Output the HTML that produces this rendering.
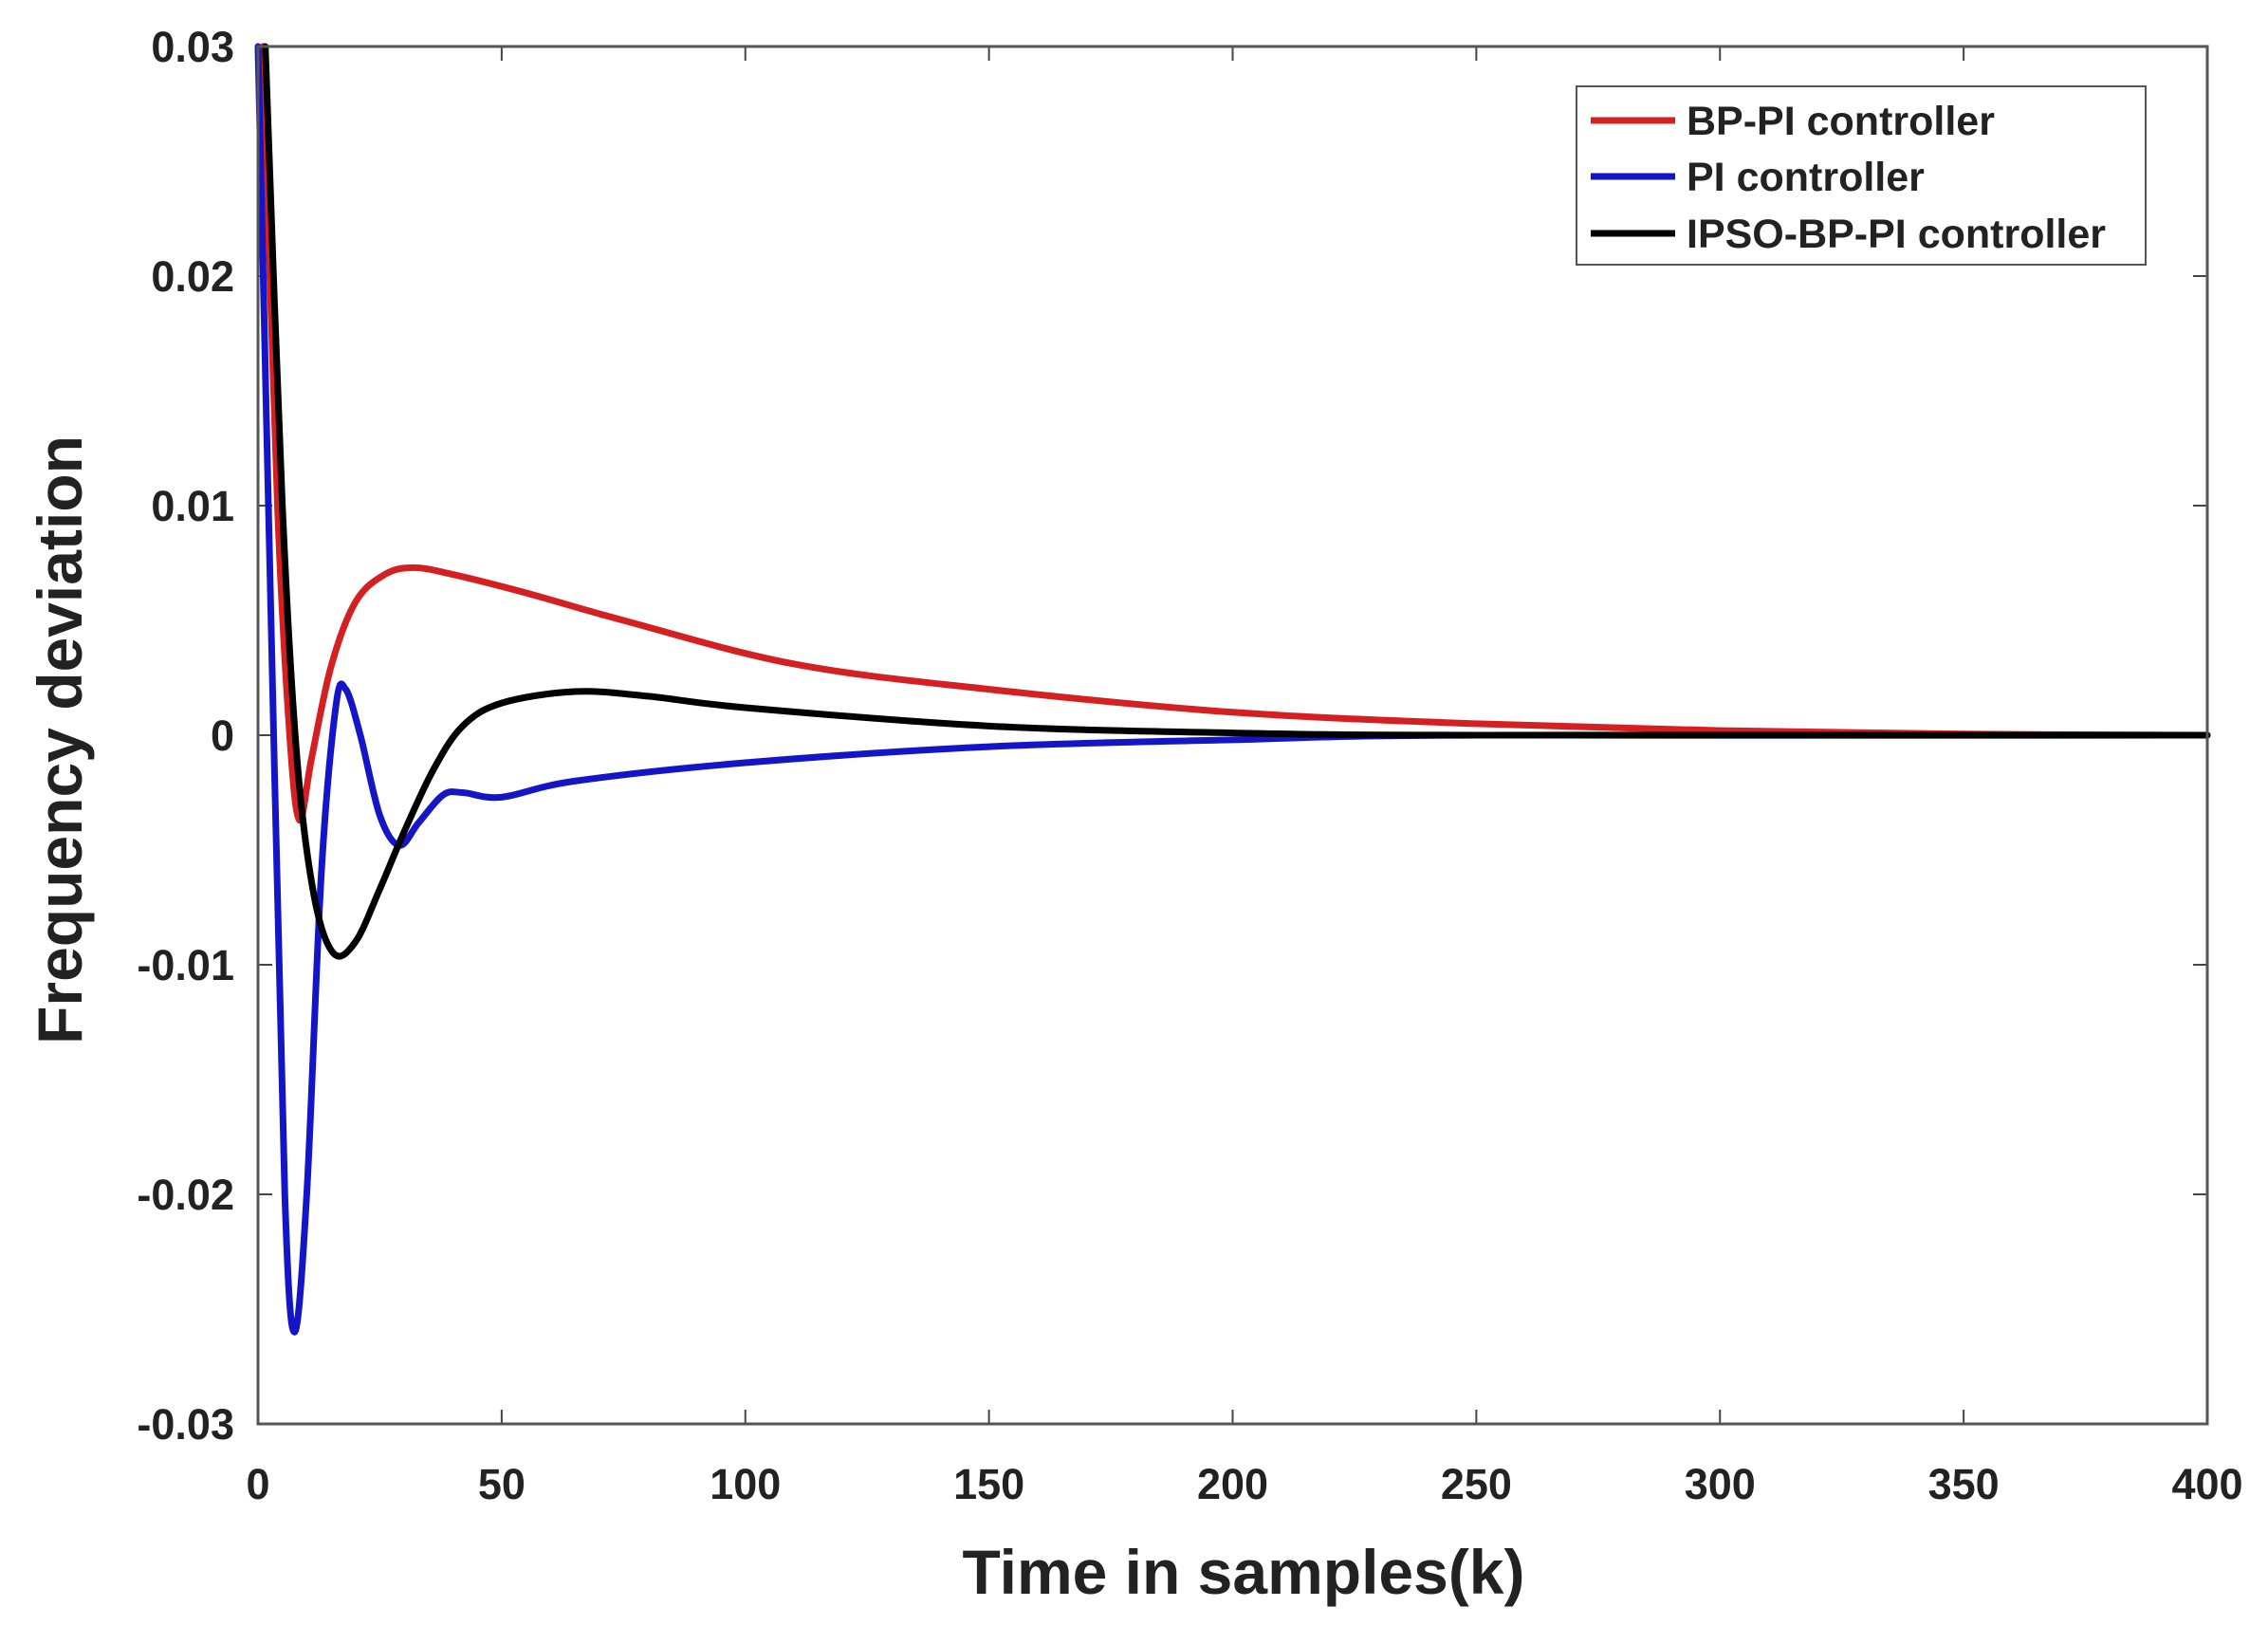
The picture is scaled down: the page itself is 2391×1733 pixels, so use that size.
<!DOCTYPE html>
<html><head><meta charset="utf-8"><style>
html,body{margin:0;padding:0;background:#fff;}
svg text{font-family:"Liberation Sans",Arial,sans-serif;font-weight:bold;fill:#222;}
</style></head><body>
<svg id="s" width="2391" height="1728" viewBox="0 0 2391 1728" xmlns="http://www.w3.org/2000/svg">
<rect x="0" y="0" width="2391" height="1728" fill="#fff"/>
<g id="ticks" stroke="#444" stroke-width="2"></g>
<g id="curves" fill="none" stroke-width="7" stroke-linejoin="round" stroke-linecap="round"></g>
<rect x="272" y="49" width="2055" height="1452" fill="none" stroke="#555" stroke-width="3"/>
<g font-size="45" text-anchor="end">
<text x="247" y="65">0.03</text>
<text x="247" y="307">0.02</text>
<text x="247" y="549">0.01</text>
<text x="247" y="791">0</text>
<text x="247" y="1033">-0.01</text>
<text x="247" y="1275">-0.02</text>
<text x="247" y="1517">-0.03</text>
</g>
<g font-size="45" text-anchor="middle" id="xl"></g>
<text x="1311" y="1680" font-size="66" text-anchor="middle">Time in samples(k)</text>
<text transform="translate(86,780) rotate(-90)" font-size="66" text-anchor="middle">Frequency deviation</text>
<rect x="1662" y="91" width="600" height="188" fill="#fff" stroke="#555" stroke-width="2"/>
<line x1="1677" y1="127" x2="1766" y2="127" stroke="#d42020" stroke-width="7"/>
<line x1="1677" y1="186" x2="1766" y2="186" stroke="#1515c8" stroke-width="7"/>
<line x1="1677" y1="246" x2="1766" y2="246" stroke="#000" stroke-width="7"/>
<g font-size="43">
<text x="1778" y="142">BP-PI controller</text>
<text x="1778" y="201">PI controller</text>
<text x="1778" y="261">IPSO-BP-PI controller</text>
</g>
</svg>
<script>
function px(k){return 272+k*5.1375;}
function py(v){return 775-v*24200;}
var t=document.getElementById("ticks"),xl=document.getElementById("xl");
for(var i=0;i<=8;i++){var x=px(i*50);
 t.innerHTML+='<line x1="'+x+'" y1="1501" x2="'+x+'" y2="1486"/><line x1="'+x+'" y1="49" x2="'+x+'" y2="64"/>';
 xl.innerHTML+='<text x="'+x+'" y="1580">'+(i*50)+'</text>';}
for(var j=0;j<=6;j++){var y=49+j*242;
 t.innerHTML+='<line x1="272" y1="'+y+'" x2="287" y2="'+y+'"/><line x1="2327" y1="'+y+'" x2="2312" y2="'+y+'"/>';}
function path(pts){
 var P=pts.map(function(p){return [px(p[0]),py(p[1])];});
 var d="M"+P[0][0]+","+P[0][1];
 for(var i=0;i<P.length-1;i++){
  var p0=P[Math.max(i-1,0)],p1=P[i],p2=P[i+1],p3=P[Math.min(i+2,P.length-1)];
  var c1=[p1[0]+(p2[0]-p0[0])/6,p1[1]+(p2[1]-p0[1])/6];
  var c2=[p2[0]-(p3[0]-p1[0])/6,p2[1]-(p3[1]-p1[1])/6];
  d+=" C"+c1+" "+c2+" "+p2;}
 return d;}
var red=[[1,0.03],[4,0.01],[6.5,0],[8.5,-0.0037],[11,-0.001],[15,0.003],[20,0.0058],[26,0.0070],[32,0.0073],[40,0.007],[55,0.0062],[75,0.005],[110,0.0031],[150,0.002],[200,0.001],[250,0.0005],[300,0.0002],[350,0.00005],[400,0]];
var blue=[[0,0.03],[3,0.002],[5.5,-0.02],[7.5,-0.026],[10,-0.02],[13,-0.006],[16,0.0013],[18,0.002],[21,0.0],[25,-0.0035],[29,-0.0048],[33,-0.0038],[38,-0.0026],[42,-0.0025],[50,-0.0027],[65,-0.002],[100,-0.0012],[150,-0.0005],[200,-0.0002],[250,0],[400,0]];
var black=[[1.5,0.03],[5,0.01],[8,-0.001],[11.5,-0.007],[15.5,-0.0095],[20,-0.009],[25,-0.0067],[30,-0.0042],[36,-0.0015],[42,0.0004],[50,0.0014],[65,0.0019],[80,0.0017],[100,0.0012],[150,0.0004],[200,0.0001],[250,0],[400,0]];
document.getElementById("curves").innerHTML=
 '<path stroke="#d42020" d="'+path(red)+'"/>'+
 '<path stroke="#1515c8" d="'+path(blue)+'"/>'+
 '<path stroke="#000" d="'+path(black)+'"/>';
</script>
</body></html>
